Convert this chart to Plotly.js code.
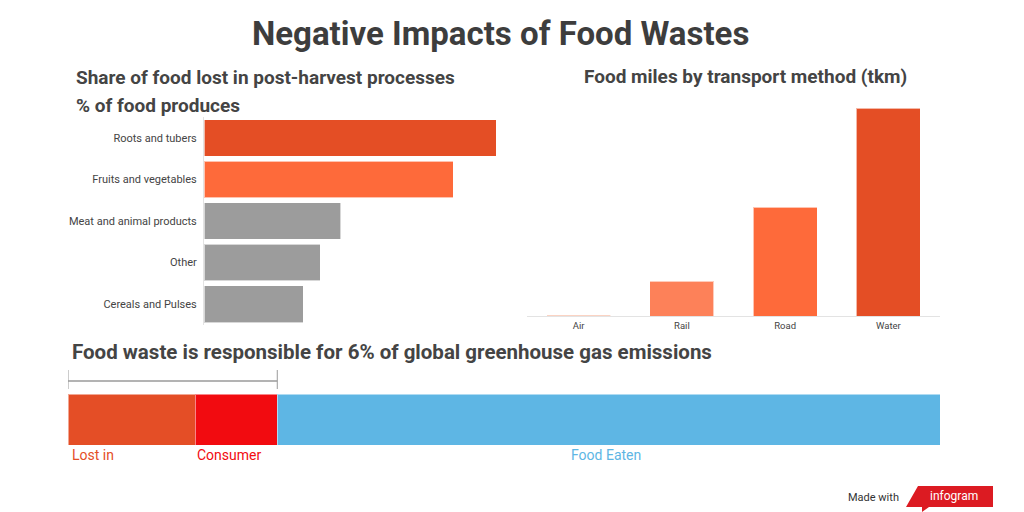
<!DOCTYPE html>
<html>
<head>
<meta charset="utf-8">
<script src="https://cdn.plot.ly/plotly-3.0.1.min.js"></script>
<style>html,body{margin:0;padding:0;background:#fff}#chart{width:1024px;height:512px}</style>
</head>
<body>
<div id="chart"></div>
<script>
// Share of food lost in post-harvest processes (% of food produced)
const lossCategories = ["Roots and tubers", "Fruits and vegetables", "Meat and animal products", "Other", "Cereals and Pulses"];
const lossValues = [45, 38.4, 21.1, 17.9, 15.3];
const lossColors = ["#e44e25", "#fe6a3a", "#9c9c9c", "#9c9c9c", "#9c9c9c"];

// Food miles by transport method (tkm, relative)
const transportCategories = ["Air", "Rail", "Road", "Water"];
const transportValues = [0.6, 16.8, 52.4, 100];
const transportColors = ["#fbd3c3", "#fd8159", "#fe6a3a", "#e44e25"];

// Food waste share of emissions
const wasteSegments = ["Lost in", "Consumer", "Food Eaten"];
const wasteValues = [14.6, 9.4, 76];
const wasteColors = ["#e44e26", "#f20b10", "#5eb6e4"];

const W = 1024, H = 512;
const px = v => v / W;
const py = v => 1 - v / H;
const FONT = "Roboto, 'Open Sans', sans-serif";
const DARK = "#444444";

const traces = [
  {
    type: "bar", orientation: "h",
    y: lossCategories, x: lossValues,
    marker: {color: lossColors, line: {color: "rgba(255,255,255,0.6)", width: 1}},
    xaxis: "x", yaxis: "y", hoverinfo: "x+y", showlegend: false
  },
  {
    type: "bar",
    x: transportCategories, y: transportValues,
    marker: {color: transportColors, line: {color: "rgba(255,255,255,0.6)", width: 1}},
    xaxis: "x2", yaxis: "y2", hoverinfo: "x+y", showlegend: false
  }
];
wasteSegments.forEach((name, i) => {
  traces.push({
    type: "bar", orientation: "h", name: name,
    y: ["waste"], x: [wasteValues[i]],
    marker: {color: wasteColors[i], line: {color: "rgba(255,255,255,0.5)", width: 1}},
    xaxis: "x3", yaxis: "y3", showlegend: false
  });
});

const wasteTotal = wasteValues[0] + wasteValues[1];
const annotations = [
  {text: "<b>Negative Impacts of Food Wastes</b>", xref: "paper", yref: "paper", x: px(500), y: py(33), xanchor: "center", yanchor: "middle", showarrow: false, font: {size: 33, color: "#3d3d3d", family: FONT}},
  {text: "<b>Share of food lost in post-harvest processes</b>", xref: "paper", yref: "paper", x: px(74), y: py(77), xanchor: "left", yanchor: "middle", showarrow: false, font: {size: 19, color: DARK, family: FONT}},
  {text: "<b>% of food produces</b>", xref: "paper", yref: "paper", x: px(74), y: py(105), xanchor: "left", yanchor: "middle", showarrow: false, font: {size: 19, color: DARK, family: FONT}},
  {text: "<b>Food miles by transport method (tkm)</b>", xref: "paper", yref: "paper", x: px(745), y: py(76), xanchor: "center", yanchor: "middle", showarrow: false, font: {size: 19, color: DARK, family: FONT}},
  {text: "<b>Food waste is responsible for 6% of global greenhouse gas emissions</b>", xref: "paper", yref: "paper", x: px(70), y: py(352), xanchor: "left", yanchor: "middle", showarrow: false, font: {size: 20.5, color: DARK, family: FONT}},
  {text: wasteSegments[0], xref: "x3", yref: "paper", x: 0, y: py(455), xanchor: "left", yanchor: "middle", showarrow: false, xshift: 2, font: {size: 14, color: wasteColors[0], family: FONT}},
  {text: wasteSegments[1], xref: "x3", yref: "paper", x: wasteValues[0], y: py(455), xanchor: "left", yanchor: "middle", showarrow: false, xshift: 0, font: {size: 14, color: wasteColors[1], family: FONT}},
  {text: wasteSegments[2], xref: "x3", yref: "paper", x: wasteTotal + wasteValues[2] / 2, y: py(455), xanchor: "center", yanchor: "middle", showarrow: false, xshift: -3, font: {size: 14, color: wasteColors[2], family: FONT}},
  {text: "Made with", xref: "paper", yref: "paper", x: px(901), y: py(497), xanchor: "right", yanchor: "middle", showarrow: false, font: {size: 11, color: "#333", family: FONT}},
  {text: "infogram", xref: "paper", yref: "paper", x: px(954), y: py(496), xanchor: "center", yanchor: "middle", showarrow: false, font: {size: 12, color: "#ffffff", family: FONT}}
];

const shapes = [
  // bracket over food waste segments
  {type: "line", xref: "x3", yref: "paper", x0: 0, x1: wasteTotal, y0: py(381), y1: py(381), line: {color: "#9a9a9a", width: 1.5}},
  {type: "line", xref: "x3", yref: "paper", x0: 0, x1: 0, y0: py(370), y1: py(389), line: {color: "#9a9a9a", width: 1}},
  {type: "line", xref: "x3", yref: "paper", x0: wasteTotal, x1: wasteTotal, y0: py(370), y1: py(389), line: {color: "#9a9a9a", width: 1}},
  // infogram logo badge
  {type: "path", xref: "paper", yref: "paper",
   path: `M ${px(906)} ${py(507)} L ${px(918)} ${py(486)} L ${px(993)} ${py(486)} L ${px(993)} ${py(507)} L ${px(929)} ${py(507)} L ${px(922)} ${py(512)} L ${px(922)} ${py(507)} Z`,
   fillcolor: "#dc1b22", line: {width: 0}}
];

const layout = {
  width: W, height: H,
  margin: {l: 0, r: 0, t: 0, b: 0},
  paper_bgcolor: "#ffffff", plot_bgcolor: "rgba(0,0,0,0)",
  font: {family: FONT, color: DARK},
  barmode: "stack",
  bargap: 0.12,
  xaxis: {domain: [px(204), px(496)], range: [0, lossValues[0]], showgrid: false, zeroline: false, showticklabels: false, showline: false, fixedrange: true},
  yaxis: {domain: [py(325), py(117)], autorange: "reversed", showgrid: false, zeroline: false, showline: true, linecolor: "#e3e3e3", linewidth: 1, ticks: "", ticklabelstandoff: 4, tickfont: {size: 11, color: "#444", family: FONT}, anchor: "x", fixedrange: true},
  xaxis2: {domain: [px(527), px(940)], anchor: "y2", showgrid: false, zeroline: false, showline: true, linecolor: "#e3e3e3", linewidth: 1, ticks: "", tickfont: {size: 9.5, color: "#444", family: FONT}, ticklabelstandoff: 1, fixedrange: true},
  yaxis2: {domain: [py(316), py(108)], anchor: "x2", range: [0, 100], showgrid: false, zeroline: false, showticklabels: false, showline: false, fixedrange: true},
  xaxis3: {domain: [px(68), px(940)], anchor: "y3", range: [0, 100], showgrid: false, zeroline: false, showticklabels: false, showline: false, fixedrange: true},
  yaxis3: {domain: [py(445), py(394)], anchor: "x3", showgrid: false, zeroline: false, showticklabels: false, showline: false, fixedrange: true},
  annotations: annotations,
  shapes: shapes
};

// bottom stacked bar should fill its band fully
traces.slice(2).forEach(t => { t.width = 1; });
// transport bars narrower
traces[1].width = 0.62;

Plotly.newPlot("chart", traces, layout, {displayModeBar: false, staticPlot: true});
</script>
</body>
</html>
